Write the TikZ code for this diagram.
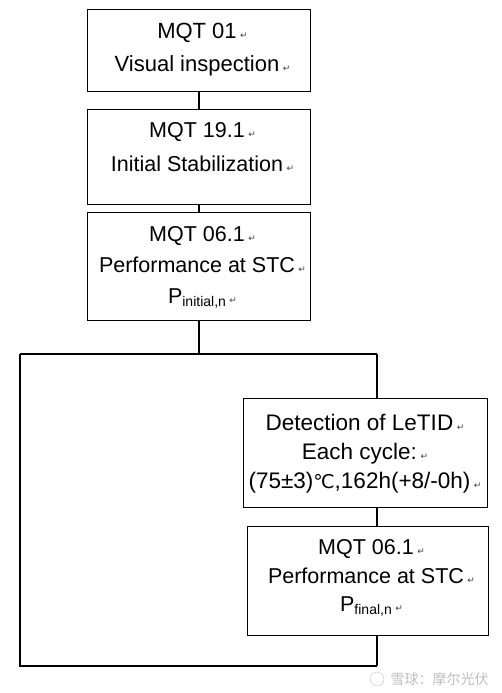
\documentclass[tikz,border=0pt]{standalone}
\usepackage{fontspec}
\setmainfont{Liberation Sans}
\newfontfamily\symfont{DejaVu Sans}
\newfontfamily\cjkfont{Noto Sans CJK SC}
\usepackage{tikz}
\usetikzlibrary{positioning}

\newcommand{\pmark}{\hspace{3.5pt}{\symfont\fontsize{9}{9}\selectfont\color{black!75}↵}}
\newcommand{\lowidx}[1]{\raisebox{-3pt}{\fontsize{14}{14}\selectfont #1}}

\begin{document}
\begin{tikzpicture}[x=1pt, y=-1pt,
        box/.style={draw, line width=0.8pt, inner sep=0pt},
        txt/.style={align=center, inner sep=0pt, font=\fontsize{21.5}{31}\selectfont},
        link/.style={line width=2pt},
        loopline/.style={line width=2.6pt}]
        \useasboundingbox (0,0) rectangle (501,693);

        % boxes
        \node[box, minimum width=223pt, minimum height=82pt] (b1) at (198.5,50) {};
        \node[box, minimum width=223pt, minimum height=95pt] (b2) at (198.5,156.5) {};
        \node[box, minimum width=223pt, minimum height=108pt] (b3) at (198.5,266) {};
        \node[box, minimum width=244pt, minimum height=109pt] (b4) at (365,452.5) {};
        \node[box, minimum width=241pt, minimum height=109pt] (b5) at (367.5,580.5) {};

        % texts
        \node[txt, font=\fontsize{22}{33}\selectfont, below=14pt of b1.north, xshift=4pt] (t1) {MQT 01\pmark\\Visual inspection\pmark};
        \node[txt, font=\fontsize{21.5}{34}\selectfont, below=14pt of b2.north, xshift=4pt] (t2) {MQT 19.1\pmark\\Initial Stabilization\pmark};
        \node[txt, below=15pt of b3.north, xshift=4pt] (t3) {MQT 06.1\pmark\\Performance at STC\pmark\\P\lowidx{initial,n}\pmark};
        \node[txt, font=\fontsize{22.5}{29}\selectfont, below=16pt of b4.north] (t4) {Detection of LeTID\pmark\\Each cycle:\pmark\\(75±3){\symfont\fontsize{19}{19}\selectfont ℃},162h(+8/-0h)\pmark};
        \node[txt, font=\fontsize{21.5}{28.5}\selectfont, below=14pt of b5.north, xshift=4pt] (t5) {MQT 06.1\pmark\\Performance at STC\pmark\\P\lowidx{final,n}\pmark};

        % branching points
        \coordinate (split) at (198.5,354);
        \coordinate (lt) at (20,354);
        \coordinate (rt) at (377,354);
        \coordinate (lb) at (20,666);
        \coordinate (rb) at (377,666);

        \draw[link] (b1) -- (b2);
        \draw[link] (b2) -- (b3);
        \draw[link] (b3) -- (split);
        \draw[loopline] (lt) -- (rt);
        \draw[loopline] (lt) -- (lb) -- (rb);
        \draw[link] (rt) -- (b4.north -| rt);
        \draw[link] (b4.south -| rt) -- (b5.north -| rt);
        \draw[link] (b5.south -| rt) -- (rb);

        % watermark
        \node[draw=black!25, circle, minimum size=14pt, inner sep=0pt] (logo) at (377,679) {};
        \node[text=black!25, font=\cjkfont\fontsize{14}{14}\selectfont, right=3pt of logo] (wm) {雪球：摩尔光伏};
    \end{tikzpicture}
\end{document}
